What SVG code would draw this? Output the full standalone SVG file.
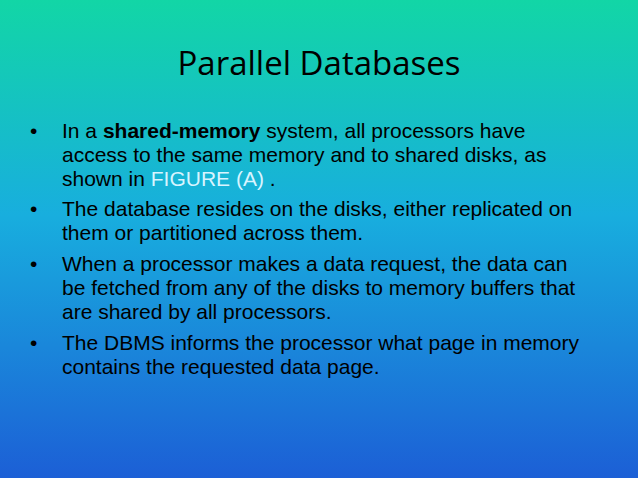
<svg xmlns="http://www.w3.org/2000/svg" width="638" height="478" viewBox="0 0 638 478">
<defs>
<linearGradient id="bg" x1="0" y1="0" x2="0" y2="1">
<stop offset="0" stop-color="#12d6a6"/>
<stop offset="0.45" stop-color="#18aede"/>
<stop offset="1" stop-color="#1c5fd6"/>
</linearGradient>
<style>
.t{font-family:"Open Sans","Liberation Sans",sans-serif;font-size:33px;fill:#000}
.b{font-family:"Liberation Sans",Arial,sans-serif;font-size:21px;fill:#000}
.h{fill:#d8f4ff}
</style>
</defs>
<rect width="638" height="478" fill="url(#bg)"/>
<text class="t" x="319" y="75" text-anchor="middle">Parallel Databases</text>
<g class="b">
<text x="30" y="138">•</text>
<text x="62" y="138">In a <tspan font-weight="bold">shared-memory</tspan> system, all processors have</text>
<text x="62" y="162">access to the same memory and to shared disks, as</text>
<text x="62" y="186">shown in <tspan class="h">FIGURE (A)</tspan> .</text>
<text x="30" y="216">•</text>
<text x="62" y="216">The database resides on the disks, either replicated on</text>
<text x="62" y="240">them or partitioned across them.</text>
<text x="30" y="271">•</text>
<text x="62" y="271">When a processor makes a data request, the data can</text>
<text x="62" y="295">be fetched from any of the disks to memory buffers that</text>
<text x="62" y="319">are shared by all processors.</text>
<text x="30" y="350">•</text>
<text x="62" y="350">The DBMS informs the processor what page in memory</text>
<text x="62" y="374">contains the requested data page.</text>
</g>
</svg>
